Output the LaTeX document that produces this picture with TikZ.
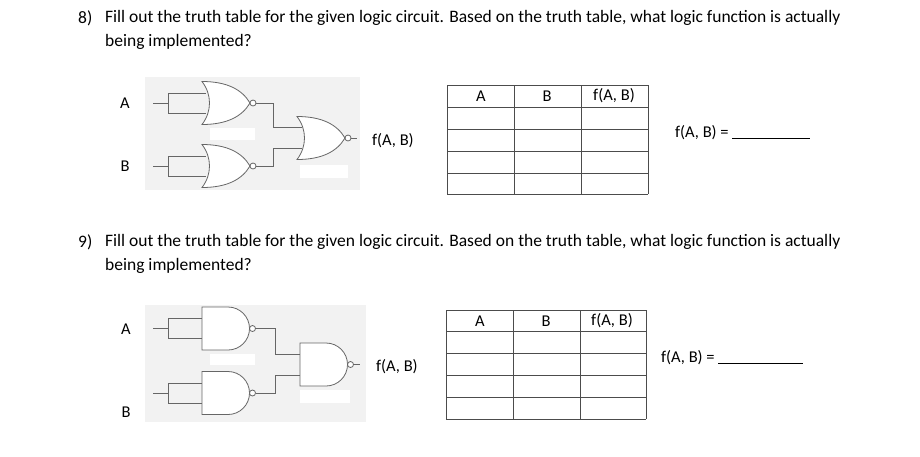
\documentclass[tikz,border=0pt]{standalone}
\usepackage{fontspec}
\setmainfont{Carlito}
\newcommand\mynor[2]{\draw[gate] (#1,#2) .. controls ({#1+25},#2) and ({#1+40},{#2+8}) .. ({#1+48},{#2+21.5}) .. controls ({#1+40},{#2+35}) and ({#1+25},{#2+43}) .. (#1,{#2+43}) .. controls ({#1+10},{#2+30}) and ({#1+10},{#2+13}) .. cycle;
\draw[gate] ({#1+51},{#2+21.5}) circle (3);}
\newcommand\myand[2]{\draw[gate] (#1,#2) -- ({#1+26},#2) arc (-90:90:21.5) -- (#1,{#2+43}) -- cycle;
\draw[gate] ({#1+50.5},{#2+21.5}) circle (3);}
\begin{document}
\begin{tikzpicture}[x=1pt,y=-1pt,
  gate/.style={draw=gray!80!black,fill=white,line width=0.8pt},
  wire/.style={draw=gray!80!black,line width=0.8pt},
  q/.style={anchor=north west,font=\fontsize{17.5}{24}\selectfont,text=black,inner sep=0},
  lab/.style={font=\fontsize{16.5}{18}\selectfont,text=black,inner sep=0},
  tab/.style={draw=black!70,line width=0.9pt}]
\useasboundingbox[fill=white] (0,0) rectangle (920,456);
% question 8
\node[q] (n8) at (78,10) {8)};
\node[q,align=left] (q8) at (105,10) {Fill out the truth table for the given logic circuit. Based on the truth table, what logic function is actually\\being implemented?};
\fill[black!5] (145,77) rectangle (360,190);
\fill[white] (210,128) rectangle (255,140);
\fill[white] (300,165) rectangle (348,178);
\node[lab] (a1) at (125,103) {A};
\node[lab] (b1) at (125,166) {B};
\draw[wire] (153,103) -- (168,103) (168,93) -- (168,113) (168,93) -- (206,93) (168,113) -- (206,113);
\draw[wire] (153,166) -- (168,166) (168,156) -- (168,176) (168,156) -- (206,156) (168,176) -- (206,176);
\draw[wire] (256,103) -- (273,103) -- (273,127) -- (302,127);
\draw[wire] (256,166) -- (273,166) -- (273,148) -- (302,148);
\draw[wire] (351,138) -- (357,138);
\mynor{202}{81.5}
\mynor{202}{144.5}
\mynor{297}{116.5}
\node[lab,anchor=west] (f1) at (372,141) {f(A, B)};
% table 1
\foreach \y in {85,107,129,151,173,194} \draw[tab] (447,\y) -- (648,\y);
\foreach \x in {447,514,581,648} \draw[tab] (\x,85) -- (\x,194);
\node[lab] (ta1) at (481,96) {A};
\node[lab] (tb1) at (547,96) {B};
\node[lab] (tf1) at (614,96) {f(A, B)};
\node[lab,anchor=west] (r1) at (675,133) {f(A, B) = \rule[-1pt]{78pt}{0.6pt}};
% question 9
\node[q] (n9) at (78,234) {9)};
\node[q,align=left] (q9) at (105,234) {Fill out the truth table for the given logic circuit. Based on the truth table, what logic function is actually\\being implemented?};
\fill[black!5] (145,305) rectangle (366,422);
\fill[white] (210,354) rectangle (255,365);
\fill[white] (300,390) rectangle (350,403);
\node[lab] (a2) at (126,329) {A};
\node[lab] (b2) at (126,412) {B};
\draw[wire] (153,328) -- (168,328) (168,318) -- (168,338) (168,318) -- (202,318) (168,338) -- (202,338);
\draw[wire] (153,393) -- (168,393) (168,383) -- (168,403) (168,383) -- (202,383) (168,403) -- (202,403);
\draw[wire] (256,328) -- (275,328) -- (275,354) -- (300,354);
\draw[wire] (256,393) -- (275,393) -- (275,375) -- (300,375);
\draw[wire] (353,364) -- (360,364);
\myand{202}{307}
\myand{202}{371.5}
\myand{300}{343}
\node[lab,anchor=west] (f2) at (376,367) {f(A, B)};
% table 2
\foreach \y in {310,331,353,375,397,419} \draw[tab] (446,\y) -- (646,\y);
\foreach \x in {446,513,580,646} \draw[tab] (\x,310) -- (\x,419);
\node[lab] (ta2) at (480,321) {A};
\node[lab] (tb2) at (546,321) {B};
\node[lab] (tf2) at (612,321) {f(A, B)};
\node[lab,anchor=west] (r2) at (661,358) {f(A, B) = \rule[-1pt]{85pt}{0.6pt}};
\end{tikzpicture}
\end{document}
